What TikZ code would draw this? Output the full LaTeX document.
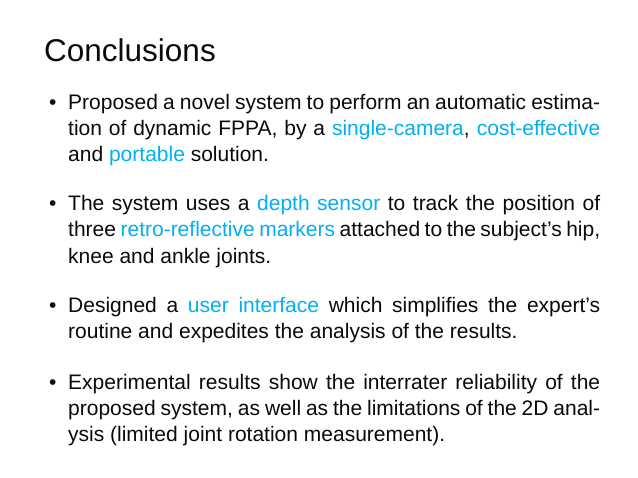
\documentclass[tikz,border=0pt]{standalone}
\usepackage{fontspec}
\setmainfont{Liberation Sans}
\definecolor{hl}{RGB}{0,176,240}
\definecolor{tx}{RGB}{10,10,10}
\newcommand{\hlt}[1]{\textcolor{hl}{#1}}
\newcommand{\nohy}{\hyphenpenalty=10000\relax\exhyphenpenalty=0\relax}
\begin{document}
\begin{tikzpicture}[x=1bp,y=-1bp,
  para/.style={anchor=base west,inner sep=0pt,text width=532bp,align=justify,
    font=\fontsize{21bp}{26bp}\selectfont,text=tx},
  bul/.style={anchor=base west,inner sep=0pt,font=\fontsize{21bp}{26bp}\selectfont,text=tx}]
\useasboundingbox (0,0) rectangle (638,478);
\fill[white] (0,0) rectangle (638,478);
\node[anchor=base west,inner sep=0pt,font=\fontsize{31.5bp}{34bp}\selectfont,text=tx] (title) at (44,62) {Conclusions};
\node[bul] (b1) at (49,110) {•};
\node[para] (p1) at (68,110) {\nohy Proposed a novel system to perform an automatic estimation of dynamic FPPA, by a \hlt{single-camera}, \hlt{cost-effective} and \hlt{portable} solution.};
\node[bul] (b2) at (49,211) {•};
\node[para] (p2) at (68,211) {\nohy The system uses a \hlt{depth sensor} to track the position of three \hlt{retro-reflective markers} attached to the subject’s hip, knee and ankle joints.};
\node[bul] (b3) at (49,312) {•};
\node[para] (p3) at (68,312) {\nohy Designed a \hlt{user interface} which simplifies the expert’s routine and expedites the analysis of the results.};
\node[bul] (b4) at (49,389) {•};
\node[para] (p4) at (68,389) {\nohy Experimental results show the interrater reliability of the proposed system, as well as the limitations of the 2D analysis (limited joint rotation measurement).};
\end{tikzpicture}
\end{document}
